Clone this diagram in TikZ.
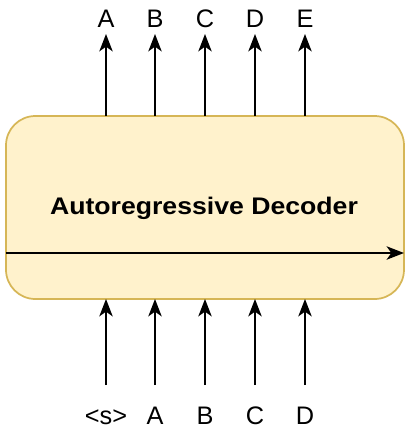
\documentclass[tikz,border=0pt]{standalone}
\usepackage{fontspec}
\setmainfont{Liberation Sans}
\usetikzlibrary{arrows.meta}
\definecolor{boxfill}{HTML}{FFF2CC}
\definecolor{boxline}{HTML}{D6B656}
\begin{document}
\begin{tikzpicture}[x=0.75pt,y=-0.75pt,
  arr/.style={-{Stealth[length=13pt,width=10pt,inset=3.5pt]},line width=1.5pt,black},
  lbl/.style={font=\fontsize{19}{20}\selectfont,inner sep=0pt,anchor=base},
  decbox/.style={draw=boxline,fill=boxfill,line width=1.3pt,rounded corners=22pt}]
\useasboundingbox (0,0) rectangle (415,430);
\draw[decbox] (6,116) rectangle (404,299);
\node[font=\bfseries\fontsize{18}{20}\selectfont,xscale=1.11,anchor=base] (title) at (204,214) {Autoregressive Decoder};
\coordinate (hl) at (6,253);
\coordinate (hr) at (404,253);
\draw[arr] (hl) -- (hr);
\foreach \x/\t/\b [count=\i] in {106/A/<s>,155/B/A,205/C/B,255/D/C,305/E/D}{
  \node[lbl] (t\i) at (\x,27) {\t};
  \coordinate (ts\i) at (\x,116);
  \coordinate (te\i) at (\x,34);
  \draw[arr] (ts\i) -- (te\i);
  \node[lbl] (b\i) at (\x,424) {\b};
  \coordinate (bs\i) at (\x,385);
  \coordinate (be\i) at (\x,299);
  \draw[arr] (bs\i) -- (be\i);
}
\end{tikzpicture}
\end{document}
